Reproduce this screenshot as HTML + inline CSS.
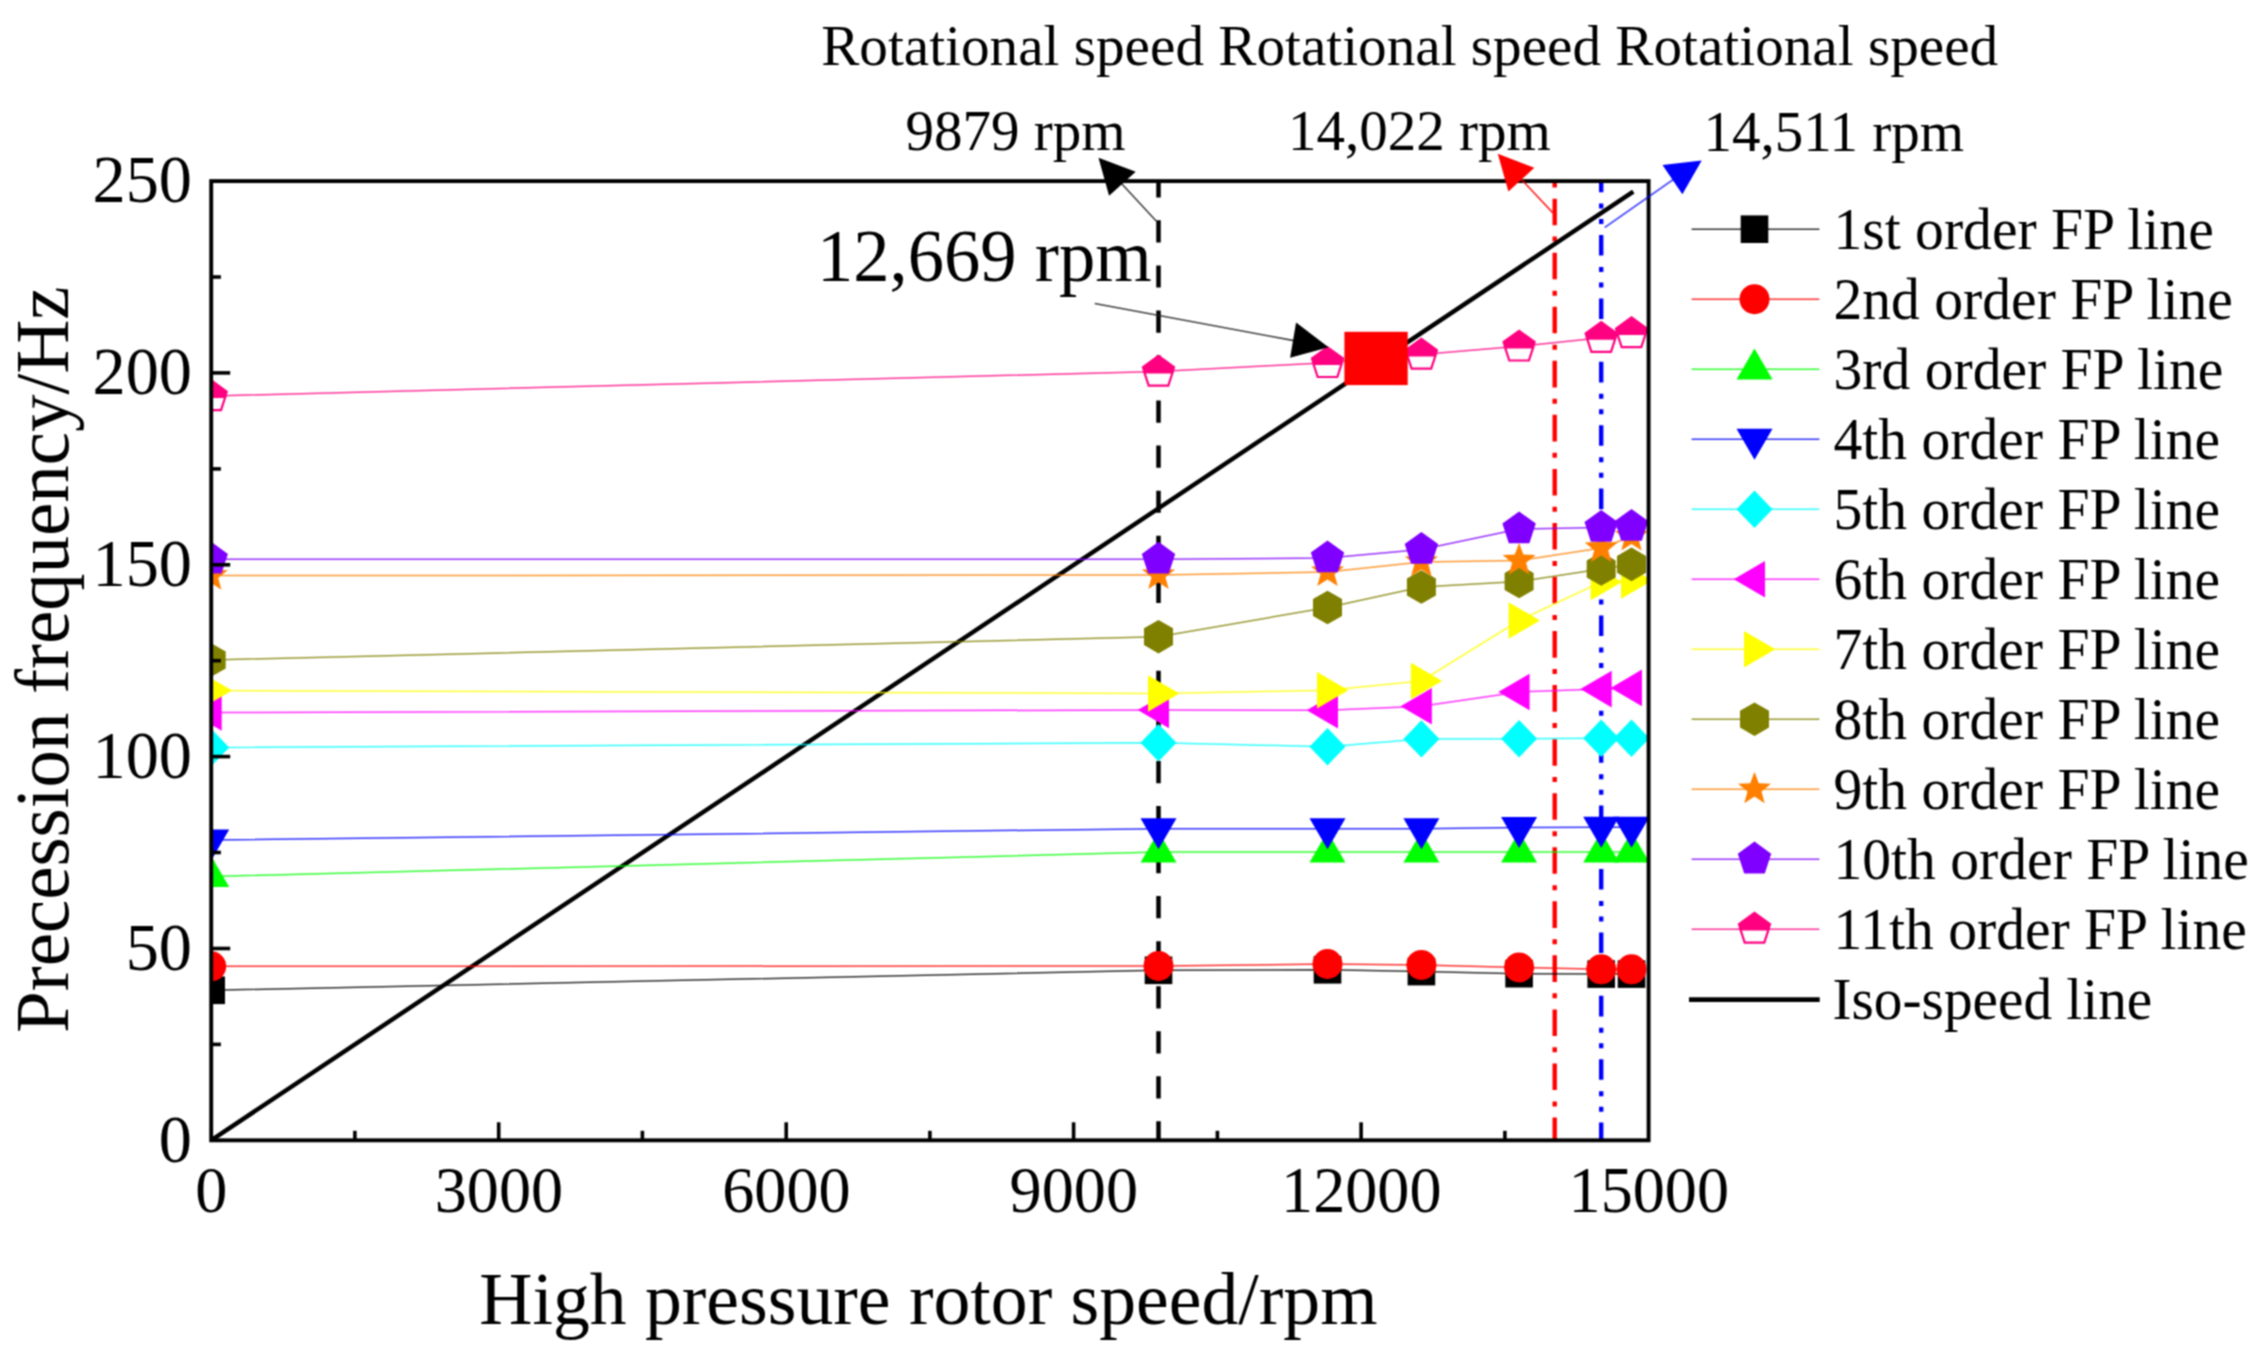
<!DOCTYPE html>
<html lang="en"><head><meta charset="utf-8"><title>Campbell diagram</title>
<style>html,body{margin:0;padding:0;background:#fff}body{width:2259px;height:1356px;overflow:hidden}svg{display:block}</style></head>
<body>
<svg width="2259" height="1356" viewBox="0 0 2259 1356" font-family="'Liberation Serif', serif">
<defs><filter id="soft" filterUnits="userSpaceOnUse" x="0" y="0" width="2259" height="1356" color-interpolation-filters="sRGB"><feConvolveMatrix order="3" kernelMatrix="1 2 1 2 4 2 1 2 1" divisor="16" edgeMode="duplicate" preserveAlpha="true"/></filter></defs>
<g filter="url(#soft)">
<rect width="2259" height="1356" fill="#ffffff"/>
<defs><clipPath id="cp"><rect x="211.2" y="181.1" width="1437.4" height="959.2"/></clipPath></defs>
<g clip-path="url(#cp)">
<line x1="1158.5" y1="175.3" x2="1158.5" y2="1145" stroke="#000" stroke-width="4.5" stroke-dasharray="22.2 22.85"/>
<line x1="1554.7" y1="144.6" x2="1554.7" y2="1145" stroke="#ff0000" stroke-width="4.4" stroke-dasharray="26.6 11.35 5 11.1"/>
<line x1="1601.2" y1="171.6" x2="1601.2" y2="1145" stroke="#0000ff" stroke-width="4.4" stroke-dasharray="20.6 11.4 5 10.5 5 10.9"/>
<line x1="211.2" y1="1140.3" x2="1633.3" y2="191.6" stroke="#000" stroke-width="4.4"/>
<polyline points="211.2,990.3 1158.5,970.3 1327.5,969.8 1421.4,971.6 1519.1,973.7 1601.2,974.1 1631.5,974.1" fill="none" stroke="#000000" stroke-width="1.50" stroke-opacity="0.80"/>
<rect x="197.4" y="976.5" width="27.6" height="27.6" fill="#000000"/>
<rect x="1144.7" y="956.5" width="27.6" height="27.6" fill="#000000"/>
<rect x="1313.7" y="956.0" width="27.6" height="27.6" fill="#000000"/>
<rect x="1407.6" y="957.8" width="27.6" height="27.6" fill="#000000"/>
<rect x="1505.3" y="959.9" width="27.6" height="27.6" fill="#000000"/>
<rect x="1587.4" y="960.3" width="27.6" height="27.6" fill="#000000"/>
<rect x="1617.7" y="960.3" width="27.6" height="27.6" fill="#000000"/>
<polyline points="211.2,966.3 1158.5,966.0 1327.5,964.0 1421.4,964.9 1519.1,967.4 1601.2,969.3 1631.5,969.3" fill="none" stroke="#ff0000" stroke-width="1.50" stroke-opacity="0.80"/>
<circle cx="211.2" cy="966.3" r="15" fill="#ff0000"/>
<circle cx="1158.5" cy="966.0" r="15" fill="#ff0000"/>
<circle cx="1327.5" cy="964.0" r="15" fill="#ff0000"/>
<circle cx="1421.4" cy="964.9" r="15" fill="#ff0000"/>
<circle cx="1519.1" cy="967.4" r="15" fill="#ff0000"/>
<circle cx="1601.2" cy="969.3" r="15" fill="#ff0000"/>
<circle cx="1631.5" cy="969.3" r="15" fill="#ff0000"/>
<polyline points="211.2,876.5 1158.5,852.1 1327.5,852.1 1421.4,852.1 1519.1,852.1 1601.2,852.1 1631.5,852.1" fill="none" stroke="#00ff00" stroke-width="1.50" stroke-opacity="0.80"/>
<polygon points="211.2,855.9 229.2,886.9 193.2,886.9" fill="#00ff00" />
<polygon points="1158.5,831.5 1176.5,862.5 1140.5,862.5" fill="#00ff00" />
<polygon points="1327.5,831.5 1345.5,862.5 1309.5,862.5" fill="#00ff00" />
<polygon points="1421.4,831.5 1439.4,862.5 1403.4,862.5" fill="#00ff00" />
<polygon points="1519.1,831.5 1537.1,862.5 1501.1,862.5" fill="#00ff00" />
<polygon points="1601.2,831.5 1619.2,862.5 1583.2,862.5" fill="#00ff00" />
<polygon points="1631.5,831.5 1649.5,862.5 1613.5,862.5" fill="#00ff00" />
<polyline points="211.2,840.0 1158.5,828.7 1327.5,828.7 1421.4,828.7 1519.1,827.4 1601.2,827.2 1631.5,827.2" fill="none" stroke="#0000ff" stroke-width="1.50" stroke-opacity="0.80"/>
<polygon points="211.2,860.6 229.2,829.6 193.2,829.6" fill="#0000ff" />
<polygon points="1158.5,849.3 1176.5,818.3 1140.5,818.3" fill="#0000ff" />
<polygon points="1327.5,849.3 1345.5,818.3 1309.5,818.3" fill="#0000ff" />
<polygon points="1421.4,849.3 1439.4,818.3 1403.4,818.3" fill="#0000ff" />
<polygon points="1519.1,848.0 1537.1,817.0 1501.1,817.0" fill="#0000ff" />
<polygon points="1601.2,847.8 1619.2,816.8 1583.2,816.8" fill="#0000ff" />
<polygon points="1631.5,847.8 1649.5,816.8 1613.5,816.8" fill="#0000ff" />
<polyline points="211.2,747.5 1158.5,742.8 1327.5,746.7 1421.4,738.9 1519.1,738.7 1601.2,738.3 1631.5,738.3" fill="none" stroke="#00ffff" stroke-width="1.50" stroke-opacity="0.80"/>
<polygon points="211.2,728.8 229.2,747.5 211.2,766.2 193.2,747.5" fill="#00ffff" />
<polygon points="1158.5,724.1 1176.5,742.8 1158.5,761.5 1140.5,742.8" fill="#00ffff" />
<polygon points="1327.5,728.0 1345.5,746.7 1327.5,765.4 1309.5,746.7" fill="#00ffff" />
<polygon points="1421.4,720.2 1439.4,738.9 1421.4,757.6 1403.4,738.9" fill="#00ffff" />
<polygon points="1519.1,720.0 1537.1,738.7 1519.1,757.4 1501.1,738.7" fill="#00ffff" />
<polygon points="1601.2,719.6 1619.2,738.3 1601.2,757.0 1583.2,738.3" fill="#00ffff" />
<polygon points="1631.5,719.6 1649.5,738.3 1631.5,757.0 1613.5,738.3" fill="#00ffff" />
<polyline points="211.2,712.5 1158.5,710.0 1327.5,710.2 1421.4,706.3 1519.1,692.0 1601.2,689.1 1631.5,687.9" fill="none" stroke="#ff00ff" stroke-width="1.50" stroke-opacity="0.80"/>
<polygon points="190.4,712.5 221.7,694.2 221.7,730.8" fill="#ff00ff" />
<polygon points="1137.7,710.0 1169.0,691.7 1169.0,728.3" fill="#ff00ff" />
<polygon points="1306.7,710.2 1338.0,691.9 1338.0,728.5" fill="#ff00ff" />
<polygon points="1400.6,706.3 1431.9,688.0 1431.9,724.6" fill="#ff00ff" />
<polygon points="1498.3,692.0 1529.6,673.7 1529.6,710.3" fill="#ff00ff" />
<polygon points="1580.4,689.1 1611.7,670.8 1611.7,707.4" fill="#ff00ff" />
<polygon points="1610.7,687.9 1642.0,669.6 1642.0,706.2" fill="#ff00ff" />
<polyline points="211.2,690.5 1158.5,693.5 1327.5,690.3 1421.4,681.0 1519.1,620.5 1601.2,582.0 1631.5,580.5" fill="none" stroke="#ffff00" stroke-width="1.50" stroke-opacity="0.80"/>
<polygon points="232.0,690.5 200.7,672.2 200.7,708.8" fill="#ffff00" />
<polygon points="1179.3,693.5 1148.0,675.2 1148.0,711.8" fill="#ffff00" />
<polygon points="1348.3,690.3 1317.0,672.0 1317.0,708.6" fill="#ffff00" />
<polygon points="1442.2,681.0 1410.9,662.7 1410.9,699.3" fill="#ffff00" />
<polygon points="1539.9,620.5 1508.6,602.2 1508.6,638.8" fill="#ffff00" />
<polygon points="1622.0,582.0 1590.7,563.7 1590.7,600.3" fill="#ffff00" />
<polygon points="1652.3,580.5 1621.0,562.2 1621.0,598.8" fill="#ffff00" />
<polyline points="211.2,660.0 1158.5,636.7 1327.5,607.5 1421.4,587.0 1519.1,581.5 1601.2,569.0 1631.5,564.4" fill="none" stroke="#808000" stroke-width="1.50" stroke-opacity="0.80"/>
<polygon points="211.2,643.2 225.7,651.6 225.7,668.4 211.2,676.8 196.7,668.4 196.7,651.6" fill="#808000" />
<polygon points="1158.5,619.9 1173.0,628.3 1173.0,645.1 1158.5,653.5 1144.0,645.1 1144.0,628.3" fill="#808000" />
<polygon points="1327.5,590.7 1342.0,599.1 1342.0,615.9 1327.5,624.3 1313.0,615.9 1313.0,599.1" fill="#808000" />
<polygon points="1421.4,570.2 1435.9,578.6 1435.9,595.4 1421.4,603.8 1406.9,595.4 1406.9,578.6" fill="#808000" />
<polygon points="1519.1,564.7 1533.6,573.1 1533.6,589.9 1519.1,598.3 1504.6,589.9 1504.6,573.1" fill="#808000" />
<polygon points="1601.2,552.2 1615.7,560.6 1615.7,577.4 1601.2,585.8 1586.7,577.4 1586.7,560.6" fill="#808000" />
<polygon points="1631.5,547.6 1646.0,556.0 1646.0,572.8 1631.5,581.2 1617.0,572.8 1617.0,556.0" fill="#808000" />
<polyline points="211.2,575.6 1158.5,575.0 1327.5,572.0 1421.4,562.0 1519.1,560.5 1601.2,548.0 1631.5,536.5" fill="none" stroke="#ff8000" stroke-width="1.50" stroke-opacity="0.80"/>
<polygon points="211.2,558.2 215.5,569.6 227.7,570.2 218.2,577.9 221.4,589.7 211.2,583.0 201.0,589.7 204.2,577.9 194.7,570.2 206.9,569.6" fill="#ff8000" />
<polygon points="1158.5,557.6 1162.8,569.0 1175.0,569.6 1165.5,577.3 1168.7,589.1 1158.5,582.4 1148.3,589.1 1151.5,577.3 1142.0,569.6 1154.2,569.0" fill="#ff8000" />
<polygon points="1327.5,554.6 1331.8,566.0 1344.0,566.6 1334.5,574.3 1337.7,586.1 1327.5,579.4 1317.3,586.1 1320.5,574.3 1311.0,566.6 1323.2,566.0" fill="#ff8000" />
<polygon points="1421.4,544.6 1425.7,556.0 1437.9,556.6 1428.4,564.3 1431.6,576.1 1421.4,569.4 1411.2,576.1 1414.4,564.3 1404.9,556.6 1417.1,556.0" fill="#ff8000" />
<polygon points="1519.1,543.1 1523.4,554.5 1535.6,555.1 1526.1,562.8 1529.3,574.6 1519.1,567.9 1508.9,574.6 1512.1,562.8 1502.6,555.1 1514.8,554.5" fill="#ff8000" />
<polygon points="1601.2,530.6 1605.5,542.0 1617.7,542.6 1608.2,550.3 1611.4,562.1 1601.2,555.4 1591.0,562.1 1594.2,550.3 1584.7,542.6 1596.9,542.0" fill="#ff8000" />
<polygon points="1631.5,519.1 1635.8,530.5 1648.0,531.1 1638.5,538.8 1641.7,550.6 1631.5,543.9 1621.3,550.6 1624.5,538.8 1615.0,531.1 1627.2,530.5" fill="#ff8000" />
<polyline points="211.2,559.3 1158.5,559.3 1327.5,558.0 1421.4,549.5 1519.1,529.0 1601.2,527.5 1631.5,526.5" fill="none" stroke="#8000ff" stroke-width="1.50" stroke-opacity="0.80"/>
<polygon points="211.2,541.7 227.9,553.9 221.5,573.5 200.9,573.5 194.5,553.9" fill="#8000ff" />
<polygon points="1158.5,541.7 1175.2,553.9 1168.8,573.5 1148.2,573.5 1141.8,553.9" fill="#8000ff" />
<polygon points="1327.5,540.4 1344.2,552.6 1337.8,572.2 1317.2,572.2 1310.8,552.6" fill="#8000ff" />
<polygon points="1421.4,531.9 1438.1,544.1 1431.7,563.7 1411.1,563.7 1404.7,544.1" fill="#8000ff" />
<polygon points="1519.1,511.4 1535.8,523.6 1529.4,543.2 1508.8,543.2 1502.4,523.6" fill="#8000ff" />
<polygon points="1601.2,509.9 1617.9,522.1 1611.5,541.7 1590.9,541.7 1584.5,522.1" fill="#8000ff" />
<polygon points="1631.5,508.9 1648.2,521.1 1641.8,540.7 1621.2,540.7 1614.8,521.1" fill="#8000ff" />
<polyline points="211.2,396.0 1158.5,371.5 1327.5,362.8 1421.4,354.5 1519.1,346.3 1601.2,337.7 1631.5,333.0" fill="none" stroke="#ff0080" stroke-width="1.50" stroke-opacity="0.80"/>
<polygon points="211.2,379.1 228.0,391.3 226.2,397.0 196.2,397.0 194.4,391.3" fill="#ff0080" /><polygon points="225.3,397.0 221.0,410.2 201.4,410.2 197.1,397.0" fill="#ffffff" stroke="#ff0080" stroke-width="2.2" stroke-linejoin="miter"/>
<polygon points="1158.5,354.6 1175.3,366.8 1173.5,372.5 1143.5,372.5 1141.7,366.8" fill="#ff0080" /><polygon points="1172.6,372.5 1168.3,385.7 1148.7,385.7 1144.4,372.5" fill="#ffffff" stroke="#ff0080" stroke-width="2.2" stroke-linejoin="miter"/>
<polygon points="1327.5,345.9 1344.3,358.1 1342.5,363.8 1312.5,363.8 1310.7,358.1" fill="#ff0080" /><polygon points="1341.6,363.8 1337.3,377.0 1317.7,377.0 1313.4,363.8" fill="#ffffff" stroke="#ff0080" stroke-width="2.2" stroke-linejoin="miter"/>
<polygon points="1421.4,337.6 1438.2,349.8 1436.4,355.5 1406.4,355.5 1404.6,349.8" fill="#ff0080" /><polygon points="1435.5,355.5 1431.2,368.7 1411.6,368.7 1407.3,355.5" fill="#ffffff" stroke="#ff0080" stroke-width="2.2" stroke-linejoin="miter"/>
<polygon points="1519.1,329.4 1535.9,341.6 1534.1,347.3 1504.1,347.3 1502.3,341.6" fill="#ff0080" /><polygon points="1533.2,347.3 1528.9,360.5 1509.3,360.5 1505.0,347.3" fill="#ffffff" stroke="#ff0080" stroke-width="2.2" stroke-linejoin="miter"/>
<polygon points="1601.2,320.8 1618.0,333.0 1616.2,338.7 1586.2,338.7 1584.4,333.0" fill="#ff0080" /><polygon points="1615.3,338.7 1611.0,351.9 1591.4,351.9 1587.1,338.7" fill="#ffffff" stroke="#ff0080" stroke-width="2.2" stroke-linejoin="miter"/>
<polygon points="1631.5,316.1 1648.3,328.3 1646.5,334.0 1616.5,334.0 1614.7,328.3" fill="#ff0080" /><polygon points="1645.6,334.0 1641.3,347.2 1621.7,347.2 1617.4,334.0" fill="#ffffff" stroke="#ff0080" stroke-width="2.2" stroke-linejoin="miter"/>
</g>
<g stroke="#000" stroke-width="3.6"><line x1="211.2" y1="1044.4" x2="220.9" y2="1044.4"/><line x1="211.2" y1="948.5" x2="230.2" y2="948.5"/><line x1="211.2" y1="852.5" x2="220.9" y2="852.5"/><line x1="211.2" y1="756.6" x2="230.2" y2="756.6"/><line x1="211.2" y1="660.7" x2="220.9" y2="660.7"/><line x1="211.2" y1="564.8" x2="230.2" y2="564.8"/><line x1="211.2" y1="468.9" x2="220.9" y2="468.9"/><line x1="211.2" y1="372.9" x2="230.2" y2="372.9"/><line x1="211.2" y1="277.0" x2="220.9" y2="277.0"/><line x1="354.9" y1="1140.3" x2="354.9" y2="1130.8"/><line x1="498.7" y1="1140.3" x2="498.7" y2="1122.3"/><line x1="642.4" y1="1140.3" x2="642.4" y2="1130.8"/><line x1="786.2" y1="1140.3" x2="786.2" y2="1122.3"/><line x1="929.9" y1="1140.3" x2="929.9" y2="1130.8"/><line x1="1073.6" y1="1140.3" x2="1073.6" y2="1122.3"/><line x1="1217.4" y1="1140.3" x2="1217.4" y2="1130.8"/><line x1="1361.1" y1="1140.3" x2="1361.1" y2="1122.3"/><line x1="1504.9" y1="1140.3" x2="1504.9" y2="1130.8"/></g>
<rect x="211.2" y="181.1" width="1437.4" height="959.2" fill="none" stroke="#000" stroke-width="3.9"/>
<rect x="1344.4" y="331.8" width="63.3" height="53.3" fill="#ff0000"/>
<line x1="1094.7" y1="303.5" x2="1294" y2="340.6" stroke="#222" stroke-width="1.6" stroke-opacity="0.85"/>
<polygon points="1328.5,347.2 1296.1,322.4 1290.1,357.7" fill="#000" />
<line x1="1156.2" y1="221" x2="1121" y2="183" stroke="#222" stroke-width="1.6" stroke-opacity="0.85"/>
<polygon points="1098.5,157.8 1135.7,171.8 1109.1,195.7" fill="#000" />
<line x1="1552.9" y1="212.9" x2="1520" y2="178" stroke="#ff0000" stroke-width="1.6" stroke-opacity="0.85"/>
<polygon points="1497.8,153.8 1534.3,167.7 1508.4,191.6" fill="#ff0000" />
<line x1="1604.7" y1="227.5" x2="1674" y2="179" stroke="#0000ff" stroke-width="1.6" stroke-opacity="0.7"/>
<polygon points="1701.7,160.4 1662.5,165.1 1682.4,194.3" fill="#0000ff" />
<text transform="translate(192.0,1161.6) scale(1,1.020)" font-size="66.3" text-anchor="end" fill="#000" >0</text>
<text transform="translate(192.0,969.8) scale(1,1.020)" font-size="66.3" text-anchor="end" fill="#000" >50</text>
<text transform="translate(192.0,777.9) scale(1,1.020)" font-size="66.3" text-anchor="end" fill="#000" >100</text>
<text transform="translate(192.0,586.1) scale(1,1.020)" font-size="66.3" text-anchor="end" fill="#000" >150</text>
<text transform="translate(192.0,394.2) scale(1,1.020)" font-size="66.3" text-anchor="end" fill="#000" >200</text>
<text transform="translate(192.0,202.4) scale(1,1.020)" font-size="66.3" text-anchor="end" fill="#000" >250</text>
<text transform="translate(211.4,1211.7) scale(1,1.035)" font-size="64.2" text-anchor="middle" fill="#000" >0</text>
<text transform="translate(498.9,1211.7) scale(1,1.035)" font-size="64.2" text-anchor="middle" fill="#000" >3000</text>
<text transform="translate(786.4,1211.7) scale(1,1.035)" font-size="64.2" text-anchor="middle" fill="#000" >6000</text>
<text transform="translate(1073.8,1211.7) scale(1,1.035)" font-size="64.2" text-anchor="middle" fill="#000" >9000</text>
<text transform="translate(1361.3,1211.7) scale(1,1.035)" font-size="64.2" text-anchor="middle" fill="#000" >12000</text>
<text transform="translate(1648.8,1211.7) scale(1,1.035)" font-size="64.2" text-anchor="middle" fill="#000" >15000</text>
<text transform="translate(479.2,1323.7) scale(1,1.014)" font-size="73.7" text-anchor="start" fill="#000" >High pressure rotor speed/rpm</text>
<text transform="translate(68.4,1032.9) rotate(-90) scale(1,1.014)" font-size="74.9" fill="#000">Precession frequency/Hz</text>
<text transform="translate(821.2,64.6) scale(1,1.014)" font-size="57.2" text-anchor="start" fill="#000" >Rotational speed Rotational speed Rotational speed</text>
<text transform="translate(905.5,150.0) scale(1,1.014)" font-size="57.0" text-anchor="start" fill="#000" >9879 rpm</text>
<text transform="translate(1288.0,150.3) scale(1,1.014)" font-size="57.0" text-anchor="start" fill="#000" >14,022 rpm</text>
<text transform="translate(1703.5,151.0) scale(1,1.014)" font-size="57.0" text-anchor="start" fill="#000" >14,511 rpm</text>
<text transform="translate(817.0,281.0) scale(1,1.014)" font-size="72.6" text-anchor="start" fill="#000" >12,669 rpm</text>
<line x1="1691.6" y1="229.2" x2="1819.4" y2="229.2" stroke="#000000" stroke-width="1.50" stroke-opacity="0.80"/>
<rect x="1740.7" y="215.4" width="27.6" height="27.6" fill="#000000"/>
<text transform="translate(1833.5,249.4) scale(1,1.014)" font-size="57.6" text-anchor="start" fill="#000" >1st order FP line</text>
<line x1="1691.6" y1="299.2" x2="1819.4" y2="299.2" stroke="#ff0000" stroke-width="1.50" stroke-opacity="0.80"/>
<circle cx="1754.5" cy="299.2" r="15" fill="#ff0000"/>
<text transform="translate(1833.5,319.4) scale(1,1.014)" font-size="57.6" text-anchor="start" fill="#000" >2nd order FP line</text>
<line x1="1691.6" y1="369.2" x2="1819.4" y2="369.2" stroke="#00ff00" stroke-width="1.50" stroke-opacity="0.80"/>
<polygon points="1754.5,348.6 1772.5,379.6 1736.5,379.6" fill="#00ff00" />
<text transform="translate(1833.5,389.4) scale(1,1.014)" font-size="57.6" text-anchor="start" fill="#000" >3rd order FP line</text>
<line x1="1691.6" y1="439.2" x2="1819.4" y2="439.2" stroke="#0000ff" stroke-width="1.50" stroke-opacity="0.80"/>
<polygon points="1754.5,459.8 1772.5,428.8 1736.5,428.8" fill="#0000ff" />
<text transform="translate(1833.5,459.4) scale(1,1.014)" font-size="57.6" text-anchor="start" fill="#000" >4th order FP line</text>
<line x1="1691.6" y1="509.2" x2="1819.4" y2="509.2" stroke="#00ffff" stroke-width="1.50" stroke-opacity="0.80"/>
<polygon points="1754.5,490.5 1772.5,509.2 1754.5,527.9 1736.5,509.2" fill="#00ffff" />
<text transform="translate(1833.5,529.4) scale(1,1.014)" font-size="57.6" text-anchor="start" fill="#000" >5th order FP line</text>
<line x1="1691.6" y1="579.2" x2="1819.4" y2="579.2" stroke="#ff00ff" stroke-width="1.50" stroke-opacity="0.80"/>
<polygon points="1733.7,579.2 1765.0,560.9 1765.0,597.5" fill="#ff00ff" />
<text transform="translate(1833.5,599.4) scale(1,1.014)" font-size="57.6" text-anchor="start" fill="#000" >6th order FP line</text>
<line x1="1691.6" y1="649.2" x2="1819.4" y2="649.2" stroke="#ffff00" stroke-width="1.50" stroke-opacity="0.80"/>
<polygon points="1775.3,649.2 1744.0,630.9 1744.0,667.5" fill="#ffff00" />
<text transform="translate(1833.5,669.4) scale(1,1.014)" font-size="57.6" text-anchor="start" fill="#000" >7th order FP line</text>
<line x1="1691.6" y1="719.2" x2="1819.4" y2="719.2" stroke="#808000" stroke-width="1.50" stroke-opacity="0.80"/>
<polygon points="1754.5,702.4 1769.0,710.8 1769.0,727.6 1754.5,736.0 1740.0,727.6 1740.0,710.8" fill="#808000" />
<text transform="translate(1833.5,739.4) scale(1,1.014)" font-size="57.6" text-anchor="start" fill="#000" >8th order FP line</text>
<line x1="1691.6" y1="789.2" x2="1819.4" y2="789.2" stroke="#ff8000" stroke-width="1.50" stroke-opacity="0.80"/>
<polygon points="1754.5,771.8 1758.8,783.2 1771.0,783.8 1761.5,791.5 1764.7,803.3 1754.5,796.6 1744.3,803.3 1747.5,791.5 1738.0,783.8 1750.2,783.2" fill="#ff8000" />
<text transform="translate(1833.5,809.4) scale(1,1.014)" font-size="57.6" text-anchor="start" fill="#000" >9th order FP line</text>
<line x1="1691.6" y1="859.2" x2="1819.4" y2="859.2" stroke="#8000ff" stroke-width="1.50" stroke-opacity="0.80"/>
<polygon points="1754.5,841.6 1771.2,853.8 1764.8,873.4 1744.2,873.4 1737.8,853.8" fill="#8000ff" />
<text transform="translate(1833.5,879.4) scale(1,1.014)" font-size="57.6" text-anchor="start" fill="#000" >10th order FP line</text>
<line x1="1691.6" y1="929.2" x2="1819.4" y2="929.2" stroke="#ff0080" stroke-width="1.50" stroke-opacity="0.80"/>
<polygon points="1754.5,911.5 1771.3,923.7 1769.5,929.4 1739.5,929.4 1737.7,923.7" fill="#ff0080" /><polygon points="1768.6,929.4 1764.3,942.6 1744.7,942.6 1740.4,929.4" fill="#ffffff" stroke="#ff0080" stroke-width="2.2" stroke-linejoin="miter"/>
<text transform="translate(1833.5,949.4) scale(1,1.014)" font-size="57.6" text-anchor="start" fill="#000" >11th order FP line</text>
<line x1="1689" y1="999.7" x2="1819.7" y2="999.7" stroke="#000" stroke-width="4.8"/>
<text transform="translate(1832.5,1018.6) scale(1,1.014)" font-size="57.3" text-anchor="start" fill="#000" >Iso-speed line</text>
</g>
</svg>
</body></html>
